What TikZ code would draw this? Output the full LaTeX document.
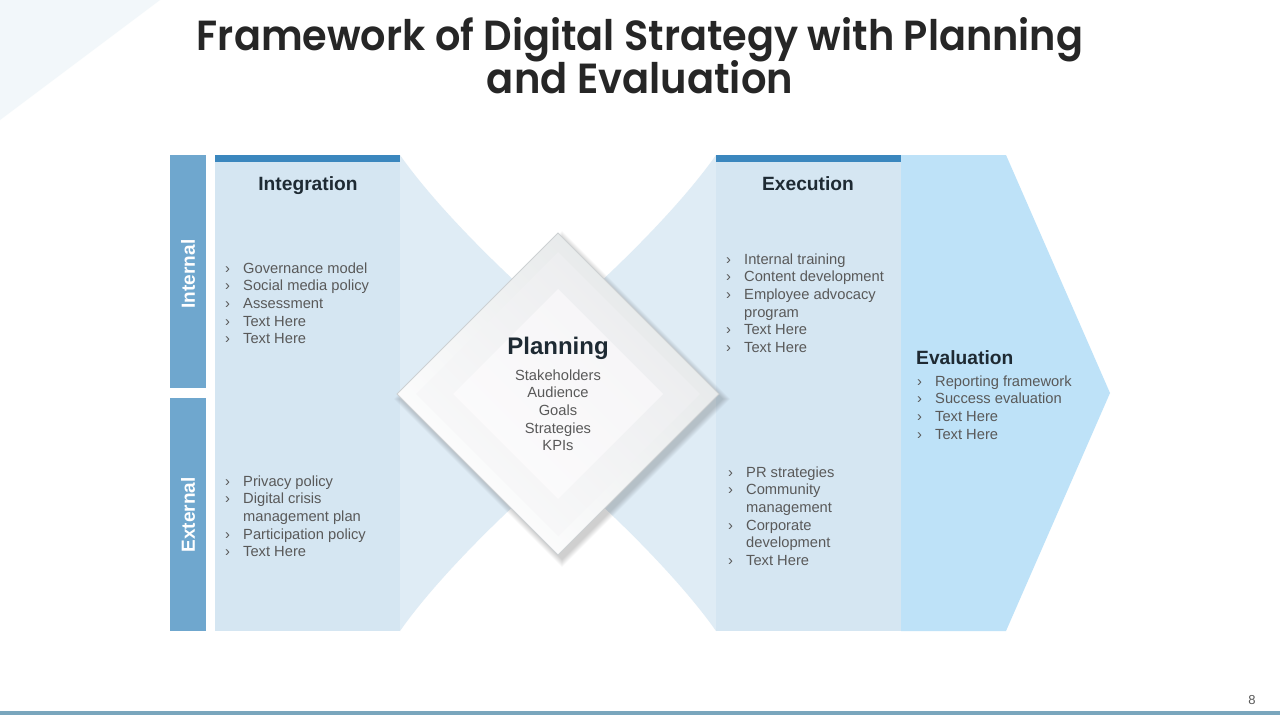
\documentclass[tikz,border=0pt]{standalone}
\usepackage{fontspec}
\setmainfont{Liberation Sans}
\newfontfamily\titlefont{Poppins SemiBold}
\usetikzlibrary{calc}
\definecolor{barblue}{HTML}{6FA7CE}
\definecolor{topbar}{HTML}{3B87BE}
\definecolor{panel}{HTML}{D5E6F2}
\definecolor{bowtie}{HTML}{DFECF5}
\definecolor{evalc}{HTML}{BEE2F8}
\definecolor{txtgray}{HTML}{595959}
\definecolor{hdcol}{HTML}{1E2A33}
\definecolor{titlecol}{HTML}{262626}
\definecolor{cornertri}{HTML}{F2F7FA}
\definecolor{footline}{HTML}{7AA6BD}
\definecolor{dmdedge}{HTML}{CDD1D3}
\definecolor{dmdgray}{HTML}{E4E7E8}
\definecolor{dmdmid}{HTML}{EBECEE}
\definecolor{dmdin}{HTML}{F6F5F7}
\begin{document}
\begin{tikzpicture}[x=1pt,y=-1pt,
  itm/.style={anchor=base west, inner sep=0pt, text=txtgray, font=\fontsize{14.7}{17.7}\selectfont},
  ctr/.style={anchor=base, inner sep=0pt, text=txtgray, font=\fontsize{14.7}{17.7}\selectfont},
  hd/.style={anchor=base, inner sep=0pt, text=hdcol, font=\bfseries\fontsize{19.2}{22}\selectfont},
  side/.style={rotate=90, inner sep=0pt, text=white, font=\bfseries\fontsize{19}{22}\selectfont},
  ttl/.style={anchor=base, inner sep=0pt, text=titlecol, font=\titlefont}]
\useasboundingbox (0,0) rectangle (1280,720);
\fill[white] (0,0) rectangle (1280,720);
% corner triangle
\fill[cornertri] (0,0) -- (160,0) -- (0,120) -- cycle;
% footer
\fill[footline] (0,711) rectangle (1280,715);
\node[anchor=base, inner sep=0pt, text=txtgray, font=\fontsize{13}{15}\selectfont] (page) at (1252,704) {8};
% title
\node[ttl] (title1) at (640,50) {\resizebox{886pt}{33pt}{Framework of Digital Strategy with Planning}};
\node[ttl] (title2) at (640,93) {\resizebox{306pt}{33pt}{and Evaluation}};
% bowtie background
\fill[bowtie] (400,155) .. controls (435,205) and (500,270) .. (558,320)
  .. controls (616,270) and (681,205) .. (716,155) -- (716,631)
  .. controls (681,581) and (616,516) .. (558,466)
  .. controls (500,516) and (435,581) .. (400,631) -- cycle;
% side bars
\fill[barblue] (170,155) rectangle (206,388);
\fill[barblue] (170,398) rectangle (206,631);
\node[side] (internal) at (188,274) {Internal};
\node[side] (external) at (188,515) {External};
% panels
\fill[panel] (215,155) rectangle (400,631);
\fill[topbar] (215,155) rectangle (400,162);
\fill[panel] (716,155) rectangle (901,631);
\fill[topbar] (716,155) rectangle (901,162);
\fill[evalc] (901,155) -- (1006,155) -- (1110,393) -- (1006,631) -- (901,631) -- cycle;
% headings
\node[hd] (integration) at (308,190) {Integration};
\node[hd] (execution) at (808,190) {Execution};
\node[hd, anchor=base west] (evaluation) at (916,364) {Evaluation};
% lists
\foreach \b/\t [count=\i] in {1/Governance model,1/Social media policy,1/Assessment,1/Text Here,1/Text Here}{
  \node[itm] (intt\i) at (243,{273+17.7*(\i-1)}) {\t};
  \ifnum\b=1 \node[itm] (intb\i) at (225,{273+17.7*(\i-1)}) {›};\fi
}
\foreach \b/\t [count=\i] in {1/Privacy policy,1/Digital crisis,0/management plan,1/Participation policy,1/Text Here}{
  \node[itm] (extt\i) at (243,{486+17.7*(\i-1)}) {\t};
  \ifnum\b=1 \node[itm] (extb\i) at (225,{486+17.7*(\i-1)}) {›};\fi
}
\foreach \b/\t [count=\i] in {1/Internal training,1/Content development,1/Employee advocacy,0/program,1/Text Here,1/Text Here}{
  \node[itm] (exat\i) at (744,{264+17.7*(\i-1)}) {\t};
  \ifnum\b=1 \node[itm] (exab\i) at (726,{264+17.7*(\i-1)}) {›};\fi
}
\foreach \b/\t [count=\i] in {1/PR strategies,1/Community,0/management,1/Corporate,0/development,1/Text Here}{
  \node[itm] (exbt\i) at (746,{477+17.7*(\i-1)}) {\t};
  \ifnum\b=1 \node[itm] (exbb\i) at (728,{477+17.7*(\i-1)}) {›};\fi
}
\foreach \b/\t [count=\i] in {1/Reporting framework,1/Success evaluation,1/Text Here,1/Text Here}{
  \node[itm] (evt\i) at (935,{386+17.7*(\i-1)}) {\t};
  \ifnum\b=1 \node[itm] (evb\i) at (917,{386+17.7*(\i-1)}) {›};\fi
}
% diamond shadow
\foreach \k in {0,...,7}{
  \fill[black, opacity=0.025] (562,{399-161-\k}) -- ({562+161+\k},399) -- (562,{399+161+\k}) -- ({562-161-\k},399) -- cycle;
}
% diamond layers
\shade[top color=dmdgray, bottom color=white, shading angle=-45, draw=dmdedge, line width=0.8pt]
  (558,233) -- (719,394) -- (558,555) -- (397,394) -- cycle;
\shade[top color=dmdmid, bottom color=white!70!dmdmid, shading angle=-45]
  (558,252) -- (700,394) -- (558,536) -- (416,394) -- cycle;
\shade[top color=dmdin, bottom color=white!60!dmdin, shading angle=-45]
  (558,289) -- (663,394) -- (558,499) -- (453,394) -- cycle;
% planning text
\node[hd, font=\bfseries\fontsize{24}{28}\selectfont] (planning) at (558,354.5) {Planning};
\foreach \t [count=\i] in {Stakeholders,Audience,Goals,Strategies,KPIs}{
  \node[ctr] (plan\i) at (558,{380+17.7*(\i-1)}) {\t};
}
\end{tikzpicture}
\end{document}
